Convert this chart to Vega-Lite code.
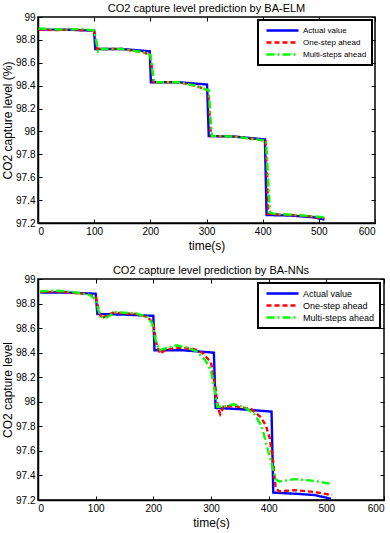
{
  "$schema": "https://vega.github.io/schema/vega-lite/v6.json",
  "padding": {"left": 0, "top": 2, "right": 0, "bottom": 0},
  "spacing": 12,
  "resolve": {"scale": {"color": "independent", "strokeDash": "independent"}, "legend": {"color": "independent", "strokeDash": "independent"}},
  "config": {
    "font": "Liberation Sans",
    "view": {"stroke": "black", "strokeWidth": 1.5},
    "axis": {"domainColor": "black", "domainWidth": 1.5, "tickColor": "black", "labelColor": "black", "titleColor": "black", "grid": false, "labelFont": "Liberation Sans", "titleFont": "Liberation Sans", "labelFontSize": 10, "titleFontSize": 12, "titleFontWeight": "normal", "tickSize": -4, "labelPadding": 7},
    "title": {"font": "Liberation Sans", "fontSize": 11, "fontWeight": "normal", "color": "black", "offset": -2},
    "legend": {"orient": "top-right", "offset": 3, "padding": 5, "strokeColor": "black", "fillColor": "white", "symbolType": "M-4,0H4", "symbolSize": 64, "symbolOffset": 14, "symbolStrokeWidth": 2.3, "labelFont": "Liberation Sans", "labelFontSize": 8, "labelColor": "black", "rowPadding": 1, "labelOffset": 15, "title": null}
  },
  "datasets": {
    "elm": [
      {"s": "Actual value", "t": 1, "v": 98.89}, {"s": "Actual value", "t": 50, "v": 98.89}, {"s": "Actual value", "t": 100, "v": 98.88}, {"s": "Actual value", "t": 102, "v": 98.72}, {"s": "Actual value", "t": 150, "v": 98.72}, {"s": "Actual value", "t": 199, "v": 98.7}, {"s": "Actual value", "t": 201, "v": 98.43}, {"s": "Actual value", "t": 250, "v": 98.43}, {"s": "Actual value", "t": 301, "v": 98.41}, {"s": "Actual value", "t": 304, "v": 97.96}, {"s": "Actual value", "t": 350, "v": 97.955}, {"s": "Actual value", "t": 404, "v": 97.93}, {"s": "Actual value", "t": 407, "v": 97.27}, {"s": "Actual value", "t": 450, "v": 97.265}, {"s": "Actual value", "t": 490, "v": 97.25}, {"s": "Actual value", "t": 510, "v": 97.23},
      {"s": "One-step ahead", "t": 1, "v": 98.89}, {"s": "One-step ahead", "t": 30, "v": 98.885}, {"s": "One-step ahead", "t": 60, "v": 98.89}, {"s": "One-step ahead", "t": 100, "v": 98.88}, {"s": "One-step ahead", "t": 103, "v": 98.8}, {"s": "One-step ahead", "t": 105, "v": 98.72}, {"s": "One-step ahead", "t": 150, "v": 98.72}, {"s": "One-step ahead", "t": 190, "v": 98.69}, {"s": "One-step ahead", "t": 200, "v": 98.66}, {"s": "One-step ahead", "t": 203, "v": 98.55}, {"s": "One-step ahead", "t": 205, "v": 98.43}, {"s": "One-step ahead", "t": 250, "v": 98.43}, {"s": "One-step ahead", "t": 280, "v": 98.4}, {"s": "One-step ahead", "t": 303, "v": 98.36}, {"s": "One-step ahead", "t": 306, "v": 98.1}, {"s": "One-step ahead", "t": 308, "v": 97.96}, {"s": "One-step ahead", "t": 350, "v": 97.955}, {"s": "One-step ahead", "t": 405, "v": 97.92}, {"s": "One-step ahead", "t": 408, "v": 97.6}, {"s": "One-step ahead", "t": 410, "v": 97.28}, {"s": "One-step ahead", "t": 450, "v": 97.27}, {"s": "One-step ahead", "t": 490, "v": 97.255}, {"s": "One-step ahead", "t": 510, "v": 97.24},
      {"s": "Multi-steps ahead", "t": 1, "v": 98.9}, {"s": "Multi-steps ahead", "t": 40, "v": 98.89}, {"s": "Multi-steps ahead", "t": 80, "v": 98.895}, {"s": "Multi-steps ahead", "t": 100, "v": 98.88}, {"s": "Multi-steps ahead", "t": 104, "v": 98.78}, {"s": "Multi-steps ahead", "t": 107, "v": 98.7}, {"s": "Multi-steps ahead", "t": 112, "v": 98.72}, {"s": "Multi-steps ahead", "t": 150, "v": 98.72}, {"s": "Multi-steps ahead", "t": 190, "v": 98.69}, {"s": "Multi-steps ahead", "t": 200, "v": 98.67}, {"s": "Multi-steps ahead", "t": 204, "v": 98.52}, {"s": "Multi-steps ahead", "t": 207, "v": 98.43}, {"s": "Multi-steps ahead", "t": 250, "v": 98.43}, {"s": "Multi-steps ahead", "t": 280, "v": 98.4}, {"s": "Multi-steps ahead", "t": 304, "v": 98.36}, {"s": "Multi-steps ahead", "t": 308, "v": 98.05}, {"s": "Multi-steps ahead", "t": 310, "v": 97.96}, {"s": "Multi-steps ahead", "t": 350, "v": 97.955}, {"s": "Multi-steps ahead", "t": 406, "v": 97.92}, {"s": "Multi-steps ahead", "t": 410, "v": 97.55}, {"s": "Multi-steps ahead", "t": 413, "v": 97.29}, {"s": "Multi-steps ahead", "t": 420, "v": 97.28}, {"s": "Multi-steps ahead", "t": 460, "v": 97.27}, {"s": "Multi-steps ahead", "t": 510, "v": 97.25}
    ],
    "nns": [
      {"s": "Actual value", "t": 4, "v": 98.89}, {"s": "Actual value", "t": 50, "v": 98.89}, {"s": "Actual value", "t": 100, "v": 98.88}, {"s": "Actual value", "t": 103, "v": 98.715}, {"s": "Actual value", "t": 150, "v": 98.71}, {"s": "Actual value", "t": 200, "v": 98.7}, {"s": "Actual value", "t": 202, "v": 98.42}, {"s": "Actual value", "t": 250, "v": 98.42}, {"s": "Actual value", "t": 305, "v": 98.4}, {"s": "Actual value", "t": 308, "v": 97.95}, {"s": "Actual value", "t": 350, "v": 97.94}, {"s": "Actual value", "t": 405, "v": 97.92}, {"s": "Actual value", "t": 408, "v": 97.26}, {"s": "Actual value", "t": 450, "v": 97.25}, {"s": "Actual value", "t": 480, "v": 97.24}, {"s": "Actual value", "t": 508, "v": 97.21},
      {"s": "One-step ahead", "t": 4, "v": 98.895}, {"s": "One-step ahead", "t": 40, "v": 98.895}, {"s": "One-step ahead", "t": 80, "v": 98.88}, {"s": "One-step ahead", "t": 100, "v": 98.86}, {"s": "One-step ahead", "t": 105, "v": 98.75}, {"s": "One-step ahead", "t": 110, "v": 98.68}, {"s": "One-step ahead", "t": 118, "v": 98.7}, {"s": "One-step ahead", "t": 130, "v": 98.725}, {"s": "One-step ahead", "t": 170, "v": 98.715}, {"s": "One-step ahead", "t": 190, "v": 98.69}, {"s": "One-step ahead", "t": 200, "v": 98.64}, {"s": "One-step ahead", "t": 205, "v": 98.48}, {"s": "One-step ahead", "t": 212, "v": 98.39}, {"s": "One-step ahead", "t": 220, "v": 98.42}, {"s": "One-step ahead", "t": 240, "v": 98.44}, {"s": "One-step ahead", "t": 270, "v": 98.43}, {"s": "One-step ahead", "t": 285, "v": 98.4}, {"s": "One-step ahead", "t": 300, "v": 98.32}, {"s": "One-step ahead", "t": 308, "v": 98.1}, {"s": "One-step ahead", "t": 312, "v": 97.95}, {"s": "One-step ahead", "t": 316, "v": 97.9}, {"s": "One-step ahead", "t": 322, "v": 97.96}, {"s": "One-step ahead", "t": 340, "v": 97.965}, {"s": "One-step ahead", "t": 370, "v": 97.94}, {"s": "One-step ahead", "t": 385, "v": 97.88}, {"s": "One-step ahead", "t": 395, "v": 97.81}, {"s": "One-step ahead", "t": 402, "v": 97.7}, {"s": "One-step ahead", "t": 408, "v": 97.5}, {"s": "One-step ahead", "t": 412, "v": 97.3}, {"s": "One-step ahead", "t": 418, "v": 97.27}, {"s": "One-step ahead", "t": 445, "v": 97.28}, {"s": "One-step ahead", "t": 480, "v": 97.265}, {"s": "One-step ahead", "t": 510, "v": 97.24},
      {"s": "Multi-steps ahead", "t": 4, "v": 98.9}, {"s": "Multi-steps ahead", "t": 30, "v": 98.905}, {"s": "Multi-steps ahead", "t": 60, "v": 98.895}, {"s": "Multi-steps ahead", "t": 90, "v": 98.87}, {"s": "Multi-steps ahead", "t": 100, "v": 98.83}, {"s": "Multi-steps ahead", "t": 105, "v": 98.74}, {"s": "Multi-steps ahead", "t": 112, "v": 98.68}, {"s": "Multi-steps ahead", "t": 120, "v": 98.69}, {"s": "Multi-steps ahead", "t": 135, "v": 98.73}, {"s": "Multi-steps ahead", "t": 170, "v": 98.72}, {"s": "Multi-steps ahead", "t": 190, "v": 98.69}, {"s": "Multi-steps ahead", "t": 198, "v": 98.64}, {"s": "Multi-steps ahead", "t": 204, "v": 98.5}, {"s": "Multi-steps ahead", "t": 210, "v": 98.42}, {"s": "Multi-steps ahead", "t": 225, "v": 98.44}, {"s": "Multi-steps ahead", "t": 240, "v": 98.46}, {"s": "Multi-steps ahead", "t": 260, "v": 98.44}, {"s": "Multi-steps ahead", "t": 275, "v": 98.41}, {"s": "Multi-steps ahead", "t": 290, "v": 98.34}, {"s": "Multi-steps ahead", "t": 300, "v": 98.25}, {"s": "Multi-steps ahead", "t": 306, "v": 98.1}, {"s": "Multi-steps ahead", "t": 311, "v": 97.96}, {"s": "Multi-steps ahead", "t": 320, "v": 97.96}, {"s": "Multi-steps ahead", "t": 340, "v": 97.98}, {"s": "Multi-steps ahead", "t": 360, "v": 97.95}, {"s": "Multi-steps ahead", "t": 375, "v": 97.9}, {"s": "Multi-steps ahead", "t": 388, "v": 97.8}, {"s": "Multi-steps ahead", "t": 398, "v": 97.62}, {"s": "Multi-steps ahead", "t": 405, "v": 97.5}, {"s": "Multi-steps ahead", "t": 412, "v": 97.37}, {"s": "Multi-steps ahead", "t": 418, "v": 97.35}, {"s": "Multi-steps ahead", "t": 445, "v": 97.37}, {"s": "Multi-steps ahead", "t": 480, "v": 97.355}, {"s": "Multi-steps ahead", "t": 510, "v": 97.33}
    ]
  },
  "vconcat": [
    {
      "width": 337, "height": 206,
      "title": "CO2 capture level prediction by BA-ELM",
      "data": {"name": "elm"},
      "layer": [
        {
          "mark": {"type": "line", "strokeWidth": 2.4},
          "encoding": {
            "x": {"field": "t", "type": "quantitative", "scale": {"domain": [0, 600], "nice": false}, "axis": {"values": [0, 100, 200, 300, 400, 500, 600], "title": "time(s)", "titlePadding": 4}},
            "y": {"field": "v", "type": "quantitative", "scale": {"domain": [97.2, 99], "nice": false, "zero": false}, "axis": {"values": [97.2, 97.4, 97.6, 97.8, 98, 98.2, 98.4, 98.6, 98.8, 99], "format": ".4~r", "title": "CO2 capture level (%)", "titlePadding": 1}},
            "color": {"field": "s", "type": "nominal", "scale": {"domain": ["Actual value", "One-step ahead", "Multi-steps ahead"], "range": ["#0000ff", "#ff0000", "#00ff00"]}, "legend": {"encode": {"legend": {"update": {"strokeWidth": {"value": 2}}}}}},
            "strokeDash": {"field": "s", "type": "nominal", "scale": {"domain": ["Actual value", "One-step ahead", "Multi-steps ahead"], "range": [[1, 0], [5, 3], [8, 3, 2, 3]]}}
          }
        },
        {
          "mark": {"type": "line", "opacity": 0},
          "encoding": {
            "x": {"field": "t", "type": "quantitative", "axis": {"orient": "top", "values": [0, 100, 200, 300, 400, 500, 600], "labels": false, "title": null, "domain": false}},
            "y": {"field": "v", "type": "quantitative", "axis": {"orient": "right", "values": [97.2, 97.4, 97.6, 97.8, 98, 98.2, 98.4, 98.6, 98.8, 99], "labels": false, "title": null, "domain": false}}
          }
        }
      ],
      "resolve": {"axis": {"x": "independent", "y": "independent"}}
    },
    {
      "width": 346, "height": 221,
      "title": "CO2 capture level prediction by BA-NNs",
      "data": {"name": "nns"},
      "layer": [
        {
          "mark": {"type": "line", "strokeWidth": 2.4},
          "encoding": {
            "x": {"field": "t", "type": "quantitative", "scale": {"domain": [0, 600], "nice": false}, "axis": {"values": [0, 100, 200, 300, 400, 500, 600], "title": "time(s)", "titlePadding": 4}},
            "y": {"field": "v", "type": "quantitative", "scale": {"domain": [97.2, 99], "nice": false, "zero": false}, "axis": {"values": [97.2, 97.4, 97.6, 97.8, 98, 98.2, 98.4, 98.6, 98.8, 99], "format": ".4~r", "title": "CO2 capture level", "titlePadding": 1}},
            "color": {"field": "s", "type": "nominal", "scale": {"domain": ["Actual value", "One-step ahead", "Multi-steps ahead"], "range": ["#0000ff", "#ff0000", "#00ff00"]}, "legend": {"labelFontSize": 9, "offset": 4, "encode": {"legend": {"update": {"strokeWidth": {"value": 2}}}}}},
            "strokeDash": {"field": "s", "type": "nominal", "scale": {"domain": ["Actual value", "One-step ahead", "Multi-steps ahead"], "range": [[1, 0], [5, 3], [8, 3, 2, 3]]}}
          }
        },
        {
          "mark": {"type": "line", "opacity": 0},
          "encoding": {
            "x": {"field": "t", "type": "quantitative", "axis": {"orient": "top", "values": [0, 100, 200, 300, 400, 500, 600], "labels": false, "title": null, "domain": false}},
            "y": {"field": "v", "type": "quantitative", "axis": {"orient": "right", "values": [97.2, 97.4, 97.6, 97.8, 98, 98.2, 98.4, 98.6, 98.8, 99], "labels": false, "title": null, "domain": false}}
          }
        }
      ],
      "resolve": {"axis": {"x": "independent", "y": "independent"}}
    }
  ]
}
